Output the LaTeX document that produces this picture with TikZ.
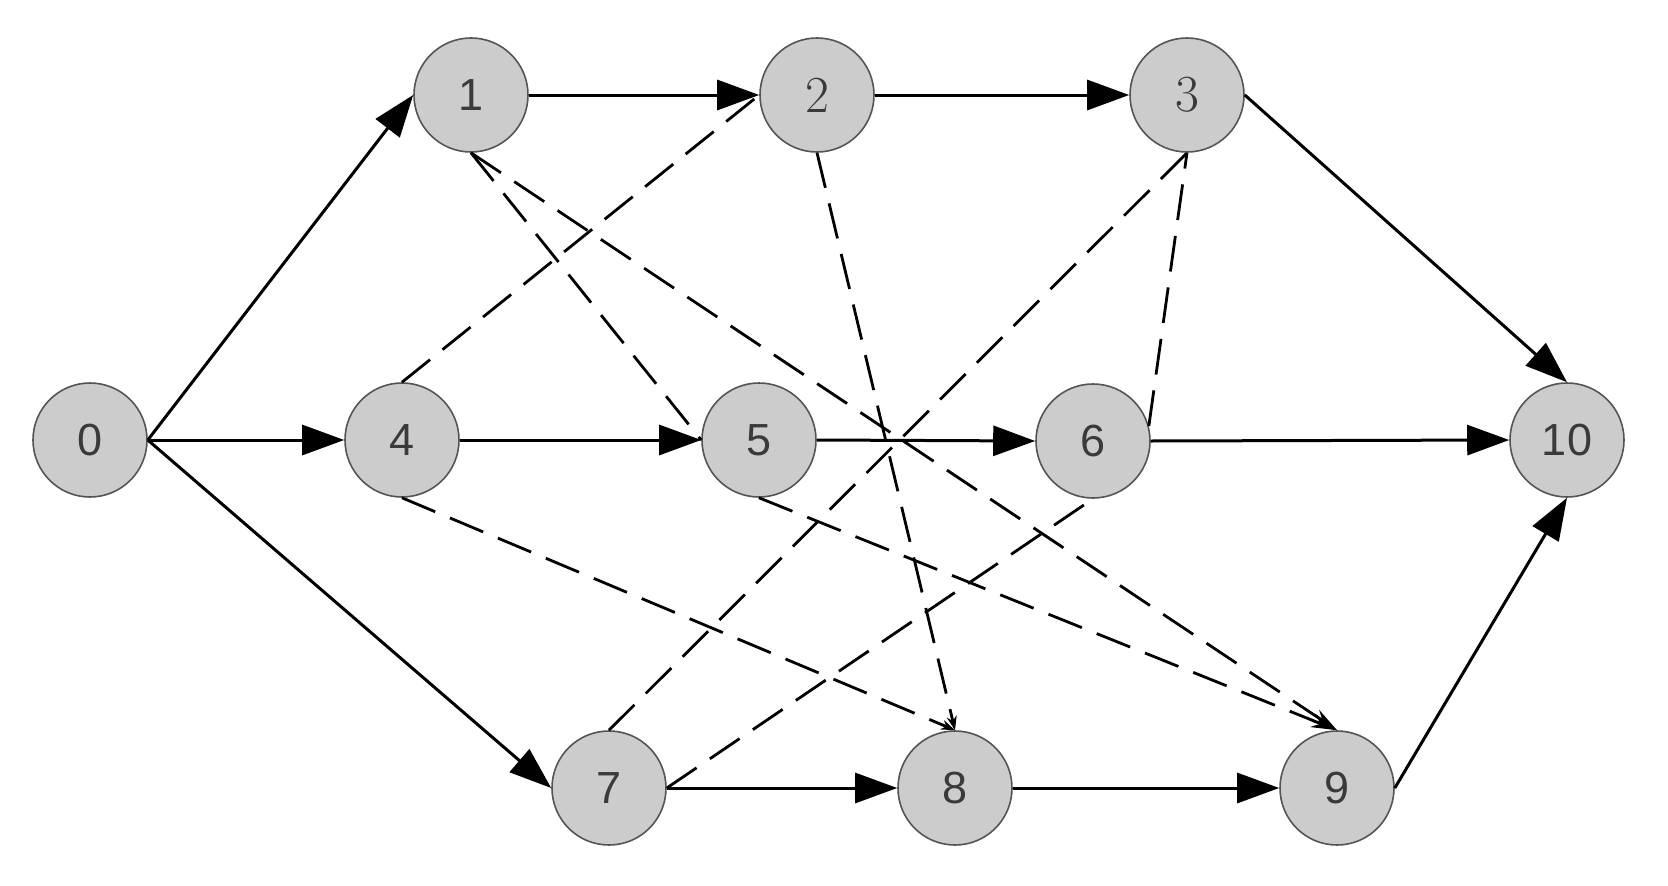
\documentclass[tikz,border=0pt]{standalone}
\usepackage{fontspec}
\setsansfont{Liberation Sans}
\usetikzlibrary{arrows.meta}
\definecolor{nodefill}{HTML}{CCCCCC}
\definecolor{nodeline}{HTML}{555555}
\definecolor{nodetext}{HTML}{3A3A3A}
\tikzset{
  vertex/.style={circle, fill=nodefill, draw=nodeline, line width=1.6pt,
    minimum size=114pt, inner sep=0pt, text=nodetext,
    font=\sffamily\fontsize{45}{45}\selectfont},
  serifvertex/.style={vertex, font=\rmfamily\fontsize{52}{52}\selectfont},
  solidedge/.style={line width=3pt, black, -{Triangle[length=42pt,width=30pt]}},
  dashedge/.style={line width=2.8pt, black, dash pattern=on 36pt off 16pt},
  dashtip/.style={dashedge, -{Stealth[length=26pt,width=14pt]}},
  smalltip/.style={dashedge, -{Stealth[length=14pt,width=10pt]}},
}
\begin{document}
\begin{tikzpicture}[x=1pt,y=-1pt]
\fill[white] (0,0) rectangle (1668,886);
\useasboundingbox (0,0) rectangle (1668,886);

\node[vertex] (n0) at (90,440) {0};
\node[vertex] (n1) at (471,95) {1};
\node[serifvertex] (n2) at (817,95) {2};
\node[serifvertex] (n3) at (1187,95) {3};
\node[vertex] (n4) at (402,440) {4};
\node[vertex] (n5) at (759,440) {5};
\node[vertex] (n6) at (1093,441) {6};
\node[vertex] (n10) at (1567,440) {10};
\node[vertex] (n7) at (609,788) {7};
\node[vertex] (n8) at (955,788) {8};
\node[vertex] (n9) at (1337,788) {9};

% solid edges
\draw[solidedge] (n0.east) -- (n1.west);
\draw[solidedge] (n0.east) -- (n4.west);
\draw[solidedge] (n0.east) -- (n7.west);
\draw[solidedge] (n1.east) -- (n2.west);
\draw[solidedge] (n2.east) -- (n3.west);
\draw[solidedge] (n3.east) -- (n10.north);
\draw[solidedge] (n4.east) -- (n5.west);
\draw[solidedge] (n5.east) -- (n6.west);
\draw[solidedge] (n6.east) -- (n10.west);
\draw[solidedge] (n7.east) -- (n8.west);
\draw[solidedge] (n8.east) -- (n9.west);
\draw[solidedge] (n9.east) -- (n10.south);

% dashed edges
\draw[dashedge] (n4.north) -- (n2.west);
\draw[dashedge] (n1.south) -- (n5.west);
\draw[dashtip] (n1.south) -- (n9.north);
\draw[dashtip] (n5.south) -- (n9.north);
\draw[smalltip] (n2.south) -- (n8.north);
\draw[smalltip] (n4.south) -- (n8.north);
\draw[dashedge] (n7.north) -- (n3.south);
\draw[dashedge] (n6.15) -- (n3.south);
\draw[dashedge] (n7.east) -- (n6.south);
\end{tikzpicture}
\end{document}
